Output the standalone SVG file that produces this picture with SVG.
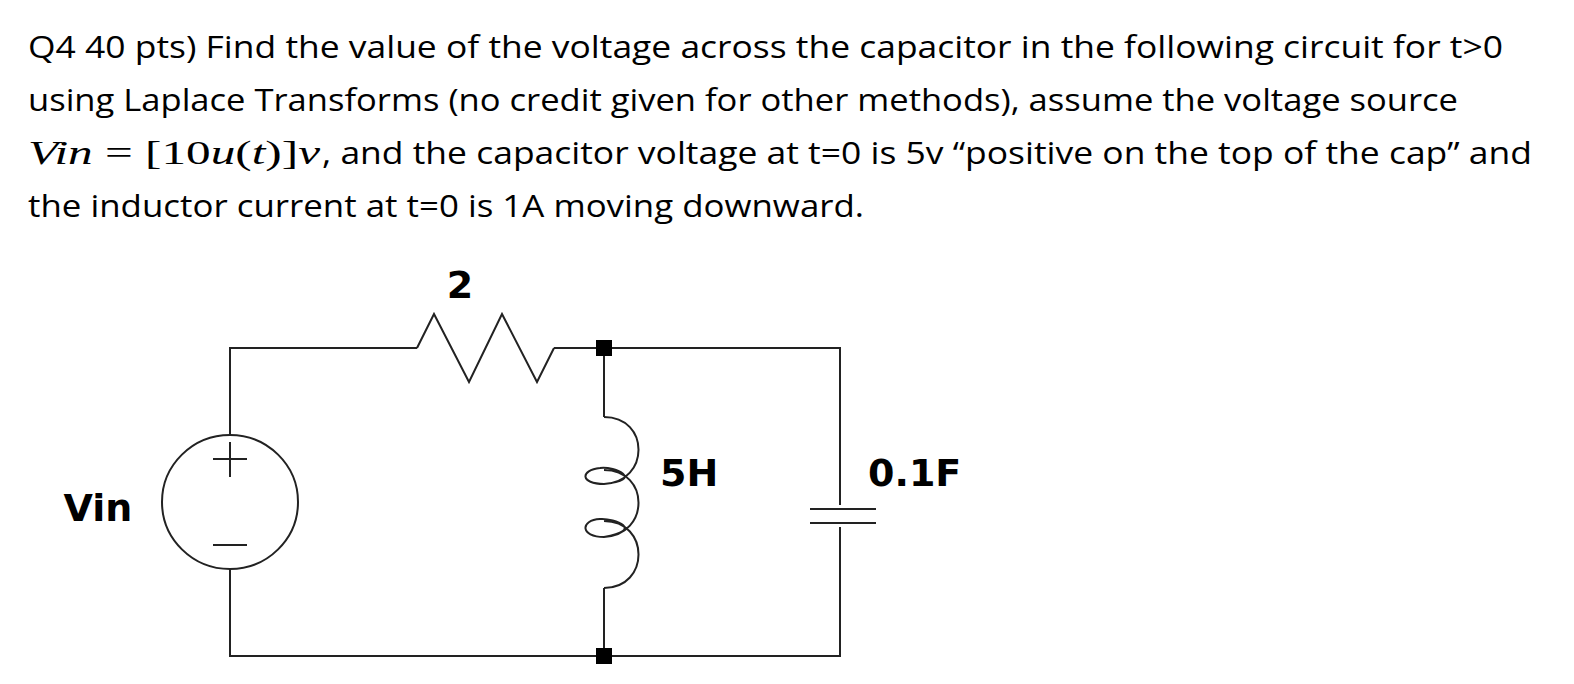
<svg xmlns="http://www.w3.org/2000/svg" width="1574" height="684" viewBox="0 0 1574 684">
<style>
.t{font-family:"Open Sans","Noto Sans",sans-serif;font-size:31px;fill:#000}
.m{font-family:"Liberation Serif",serif;font-size:33px;fill:#000}
.l{font-family:"DejaVu Sans",sans-serif;font-weight:bold;font-size:38px;fill:#000}
.w{fill:none;stroke:#222;stroke-width:2}
</style>
<rect width="1574" height="684" fill="#fff"/>
<text class="t" x="28" y="58" textLength="1475" lengthAdjust="spacingAndGlyphs">Q4 40 pts) Find the value of the voltage across the capacitor in the following circuit for t&gt;0</text>
<text class="t" x="28" y="111" textLength="1430" lengthAdjust="spacingAndGlyphs">using Laplace Transforms (no credit given for other methods), assume the voltage source</text>
<text class="m" x="28" y="164" textLength="292" lengthAdjust="spacingAndGlyphs"><tspan font-style="italic">Vin</tspan> = [10<tspan font-style="italic">u</tspan>(<tspan font-style="italic">t</tspan>)]<tspan font-style="italic">v</tspan></text>
<text class="t" x="322" y="164" textLength="1210" lengthAdjust="spacingAndGlyphs">, and the capacitor voltage at t=0 is 5v “positive on the top of the cap” and</text>
<text class="t" x="28" y="217" textLength="836" lengthAdjust="spacingAndGlyphs">the inductor current at t=0 is 1A moving downward.</text>
<g id="connectors">
<path class="w" d="M417 348 H230 V434 M230 569 V656 H840 V527 M554 348 H840 V505 M604 348 V417 M604 588 V656"/>
</g>
<g id="R1"><polyline class="w" points="417,348 434,314 469,382 502,314 537,382 554,348"/><text class="l" x="460" y="298" text-anchor="middle">2</text></g>
<g id="Vin"><ellipse class="w" cx="230" cy="502" rx="68" ry="67"/><path class="w" d="M213 459 H247 M230 442 V477 M213 545 H247"/><text class="l" x="98" y="521" text-anchor="middle">Vin</text></g>
<g id="L1"><path class="w" d="M604 417 C650 417 650 482 604 484 C580 484 580 470 600 468 C615 466 645 480 604 484 M604 470 C650 470 650 535 604 537 C580 537 580 520 600 519 C615 518 645 530 604 537 M604 521 C650 521 650 588 604 588"/><text class="l" x="660" y="486">5H</text></g>
<g id="C1"><path class="w" d="M810 509 H876 M810 523 H876"/><text class="l" x="868" y="486">0.1F</text></g>
<g id="nodes"><rect x="596" y="340" width="16" height="16"/><rect x="596" y="648" width="16" height="16"/></g>
</svg>
